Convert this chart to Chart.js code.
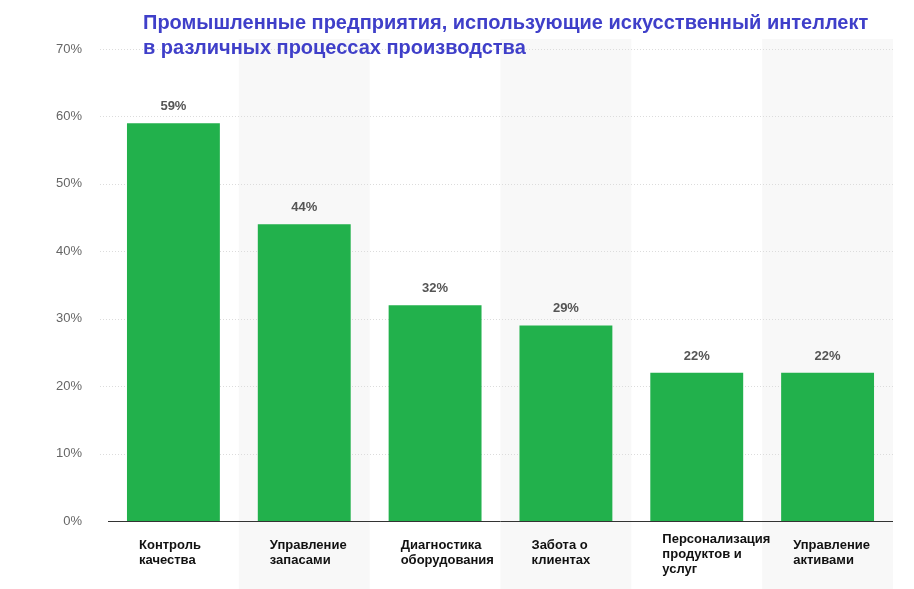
<!DOCTYPE html>
<html><head><meta charset="utf-8">
<script src="https://cdn.jsdelivr.net/npm/chart.js@4/dist/chart.umd.min.js"></script>
<style>html,body{margin:0;padding:0;background:#fff}#w{width:914px;height:589px;position:relative}</style>
</head><body><div id="w"><canvas id="c"></canvas></div>
<script>
const categories=[["Контроль","качества"],["Управление","запасами"],["Диагностика","оборудования"],["Забота о","клиентах"],["Персонализация","продуктов и","услуг"],["Управление","активами"]];
const values=[59,44,32,29,22,22];
const yTicks=[0,10,20,30,40,50,60,70];
const titleLines=["Промышленные предприятия, использующие искусственный интеллект","в различных процессах производства"];
const font="'Liberation Sans', Arial, sans-serif";
const deco={id:'deco',
beforeDatasetsDraw(ch){const {ctx,scales:{x,y},chartArea:a}=ch;const w=(a.right-a.left)/categories.length;
ctx.save();ctx.fillStyle='#f8f8f8';
categories.forEach((c,i)=>{if(i%2==1){const cx=x.getPixelForValue(i);ctx.fillRect(cx-w/2,a.top-10,w,ch.height);}});
ctx.strokeStyle='#dcdcdc';ctx.setLineDash([1,2]);ctx.lineWidth=1;
yTicks.forEach(t=>{if(t>0){const py=Math.round(y.getPixelForValue(t))+0.5;ctx.beginPath();ctx.moveTo(a.left-8,py);ctx.lineTo(a.right,py);ctx.stroke();}});
ctx.restore();},
afterDatasetsDraw(ch){const {ctx,scales:{x,y},chartArea:a}=ch;const w=(a.right-a.left)/categories.length;
ctx.save();ctx.strokeStyle='#333';ctx.lineWidth=1;ctx.beginPath();ctx.moveTo(a.left,a.bottom+0.5);ctx.lineTo(a.right,a.bottom+0.5);ctx.stroke();
ctx.font="bold 13px "+font;ctx.fillStyle='#555';ctx.textAlign='center';ctx.textBaseline='alphabetic';
values.forEach((v,i)=>{ctx.fillText(v+'%',x.getPixelForValue(i),y.getPixelForValue(v)-13);});
ctx.font="bold 13px "+font;ctx.fillStyle='#111';ctx.textAlign='left';
categories.forEach((c,i)=>{const lx=x.getPixelForValue(i)-w/2+31;const n=c.length;const y0=a.bottom+(n>2?22:28);
c.forEach((s,j)=>ctx.fillText(s,lx,y0+j*15));});
ctx.font="bold 20px "+font;ctx.fillStyle='#3f3fc9';
titleLines.forEach((s,j)=>ctx.fillText(s,143,29+j*25));
ctx.restore();}};
new Chart(document.getElementById('c'),{type:'bar',
data:{labels:categories.map(c=>c.join(' ')),datasets:[{data:values,backgroundColor:'#22b14c',categoryPercentage:0.71,barPercentage:1}]},
options:{responsive:true,maintainAspectRatio:false,animation:false,
layout:{padding:{top:49,right:21,bottom:60,left:0}},
plugins:{legend:{display:false},tooltip:{enabled:false}},
scales:{x:{ticks:{display:false},grid:{display:false},border:{display:false}},
y:{min:0,max:70,afterBuildTicks(s){s.ticks=yTicks.map(v=>({value:v}));},
afterFit(s){s.width=108;},
ticks:{callback:v=>v+'%',color:'#666',font:{family:font,size:13},padding:18},
grid:{display:false},border:{display:false}}}},
plugins:[deco]});
</script></body></html>
